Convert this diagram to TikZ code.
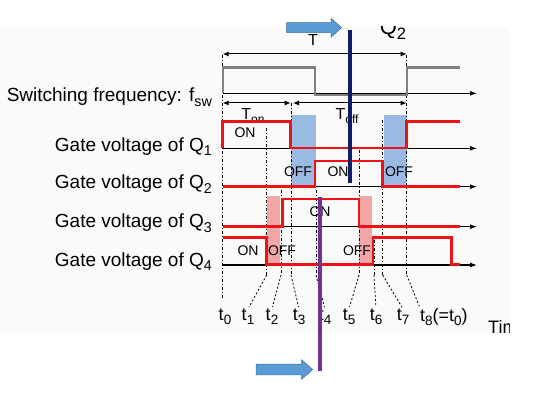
\documentclass[tikz,border=0pt]{standalone}
\usepackage{fontspec}
\setmainfont{Liberation Sans}
\usetikzlibrary{arrows.meta}

\definecolor{wavered}{RGB}{238,18,22}
\definecolor{clockgray}{RGB}{128,128,128}
\definecolor{deadblue}{RGB}{120,165,220}
\definecolor{deadpink}{RGB}{238,140,140}
\definecolor{panelgray}{RGB}{250,250,248}
\definecolor{pointerblue}{RGB}{91,155,213}
\definecolor{pointeredge}{RGB}{65,113,156}
\definecolor{cursornavy}{RGB}{18,30,100}
\definecolor{cursorpurple}{RGB}{112,48,160}

\newcommand{\lowidx}[1]{\raisebox{-0.45ex}{\scalebox{0.75}{#1}}}

\begin{document}
\begin{tikzpicture}[x=1pt,y=-1pt,
	every node/.style={inner sep=0pt},
	axis/.style={-{Latex[length=7pt,width=5pt]},line width=1.1pt,black},
	span/.style={{Latex[length=6pt,width=5pt]}-{Latex[length=6pt,width=5pt]},line width=1pt,black},
	gate/.style={line width=2.6pt,wavered},
	clock/.style={line width=2.4pt,clockgray},
	tline/.style={line width=0.8pt,dash pattern=on 3pt off 2pt on 1pt off 2pt},
	tslant/.style={line width=0.8pt,dash pattern=on 2pt off 2pt,shorten >=2pt},
	signame/.style={anchor=east,font=\fontsize{19}{21}\selectfont},
	state/.style={font=\fontsize{14}{16}\selectfont},
	tlabel/.style={font=\fontsize{18}{20}\selectfont},
	pointer/.style={fill=pointerblue,draw=pointeredge,line width=0.5pt},
	cursor/.style={line width=4pt}]

	\useasboundingbox (0,0) rectangle (551,409);
	\fill[panelgray] (0,27) rectangle (509,333);

	% dead time shading
	\fill[deadblue,opacity=0.75] (290.7,115) rectangle (316,187);
	\fill[deadblue,opacity=0.75] (384,115) rectangle (406.7,187);
	\fill[deadpink,opacity=0.75] (266.7,196) rectangle (280,263);
	\fill[deadpink,opacity=0.75] (359,196) rectangle (372,263);

	% time lines
	\coordinate (s0) at (222.7,300);
	\coordinate (s1) at (266.7,275);
	\coordinate (s2) at (281,275);
	\coordinate (s3) at (291,275);
	\coordinate (s4) at (316,275);
	\coordinate (s5) at (359,275);
	\coordinate (s6) at (374,275);
	\coordinate (s7) at (382.7,275);
	\coordinate (s8) at (406.7,275);

	\draw[tline] (222.7,55) -- (s0);
	\draw[tline] (266.7,128) -- (s1);
	\draw[tline] (281,190) -- (s2);
	\draw[tline] (291,103) -- (s3);
	\draw[tline] (316,190) -- (s4);
	\draw[tline] (359,150) -- (s5);
	\draw[tline] (374,240) -- (s6);
	\draw[tline] (382.7,120) -- (s7);
	\draw[tline] (406.7,55) -- (s8);

	% periods
	\draw[span] (222.7,54) -- (406.7,54);
	\draw[span] (222.7,103) -- (290.7,103);
	\draw[span] (293,103) -- (406.7,103);
	\node[font=\fontsize{16}{18}\selectfont] (per) at (313,40) {T};
	\node[font=\fontsize{16}{18}\selectfont] (ton) at (253,116) {T\lowidx{on}};
	\node[font=\fontsize{16}{18}\selectfont] (toff) at (347,116) {T\lowidx{off}};

	% axes
	\draw[axis] (222.7,93.3) -- (477,93.3);
	\draw[axis] (222.7,148.3) -- (477,148.3);
	\draw[axis] (222.7,186.7) -- (477,186.7);
	\draw[axis] (222.7,226.7) -- (477,226.7);
	\draw[axis] (222.7,265) -- (477,265);

	% waveforms
	\draw[clock] (222.7,93.3) -- (222.7,67.7) -- (315,67.7) -- (315,95) -- (406.7,95) -- (406.7,67.7) -- (460,67.7);
	\draw[gate] (222.7,148) -- (222.7,121.7) -- (290.7,121.7) -- (290.7,148) -- (406.7,148) -- (406.7,121.7) -- (460,121.7);
	\draw[gate] (222.7,186.5) -- (315,186.5) -- (315,161) -- (382.7,161) -- (382.7,186.5) -- (460,186.5);
	\draw[gate] (222.7,226.5) -- (282.7,226.5) -- (282.7,199) -- (359,199) -- (359,226.5) -- (460,226.5);
	\draw[gate] (222.7,237.7) -- (266.7,237.7) -- (266.7,264.7) -- (373,264.7) -- (373,237.7) -- (451.7,237.7) -- (451.7,264.7) -- (460,264.7);

	% signal names
	\node[signame] (fsw) at (212,97) {Switching frequency: f\lowidx{sw}};
	\node[signame] (q1) at (212,146.7) {Gate voltage of Q\lowidx{1}};
	\node[signame] (q2) at (212,184) {Gate voltage of Q\lowidx{2}};
	\node[signame] (q3) at (212,223) {Gate voltage of Q\lowidx{3}};
	\node[signame] (q4) at (212,261.7) {Gate voltage of Q\lowidx{4}};

	% states
	\node[state] (on1) at (245,133) {ON};
	\node[state] (off2a) at (298,172) {OFF};
	\node[state] (on2) at (338,172) {ON};
	\node[state] (off2b) at (399,172) {OFF};
	\node[state] (on3) at (320,211.7) {ON};
	\node[state] (on4) at (248,251) {ON};
	\node[state] (off4a) at (282,251) {OFF};
	\node[state] (off4b) at (357,251) {OFF};

	% time labels
	\node[tlabel] (lt0) at (225,317) {t\lowidx{0}};
	\node[tlabel] (lt1) at (248,317) {t\lowidx{1}};
	\node[tlabel] (lt2) at (272,317) {t\lowidx{2}};
	\node[tlabel] (lt3) at (299,317) {t\lowidx{3}};
	\node[tlabel] (lt4) at (325,317) {t\lowidx{4}};
	\node[tlabel] (lt5) at (349,317) {t\lowidx{5}};
	\node[tlabel] (lt6) at (376,317) {t\lowidx{6}};
	\node[tlabel] (lt7) at (403,317) {t\lowidx{7}};
	\node[tlabel,anchor=west] (lt8) at (420,317) {t\lowidx{8}(=t\lowidx{0})};

	\draw[tslant] (s1) -- (lt1.north);
	\draw[tslant] (s2) -- (lt2.north);
	\draw[tslant] (s3) -- (lt3.north);
	\draw[tslant] (s4) -- (lt4.north);
	\draw[tslant] (s5) -- (lt5.north);
	\draw[tslant] (s6) -- (lt6.north);
	\draw[tslant] (s7) -- (lt7.north);
	\draw[tslant] (s8) -- (lt8.north west);

	\begin{scope}
		\clip (0,27) rectangle (509,333);
		\node[font=\fontsize{22}{24}\selectfont] (qtop) at (393,29) {Q\lowidx{2}};
		\node[anchor=west,font=\fontsize{18}{20}\selectfont] (time) at (488,327) {Time};
	\end{scope}

	% cursors
	\coordinate (na) at (350,30);
	\coordinate (nb) at (350,183);
	\coordinate (pa) at (320,197);
	\coordinate (pb) at (320,371);
	\draw[cursor,cursornavy,line width=3.5pt] (na) -- (nb);
	\draw[cursor,cursorpurple] (pa) -- (pb);

	% pointers
	\draw[pointer] (286.7,22.7) -- (331,22.7) -- (331,18.2) -- (341.7,27.7) -- (331,37.2) -- (331,32.7) -- (286.7,32.7) -- cycle;
	\draw[pointer] (256,364.2) -- (301.7,364.2) -- (301.7,359.8) -- (312.7,369.5) -- (301.7,379.2) -- (301.7,374.8) -- (256,374.8) -- cycle;

\end{tikzpicture}
\end{document}
